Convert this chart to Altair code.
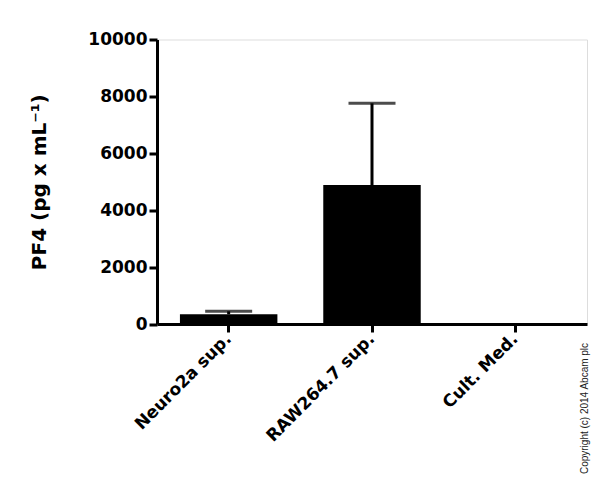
import altair as alt
import pandas as pd

categories = ["Neuro2a sup.", "RAW264.7 sup.", "Cult. Med."]
means = [340, 4886, 0]
errors = [106, 2871, 0]

df = pd.DataFrame({"cat": categories, "mean": means, "err": errors})
df["top"] = df["mean"] + df["err"]

FONT = "DejaVu Sans"

x_scale = alt.Scale(paddingInner=0.32, paddingOuter=0.16)
x_enc = alt.X("cat:N", sort=categories, title=None, scale=x_scale,
              axis=alt.Axis(labelAngle=-45, labelAlign="right", labelBaseline="middle",
                            labelFontSize=17, labelFontWeight="bold", labelFont=FONT,
                            labelColor="black", domainColor="black", domainWidth=3,
                            tickColor="black", tickWidth=3, tickSize=8, labelPadding=4,
                            labelLimit=300))
y_scale = alt.Scale(domain=[0, 10000], nice=False)

bars = alt.Chart(df).mark_bar(color="black").encode(
    x=x_enc,
    y=alt.Y("mean:Q", scale=y_scale, title="PF4 (pg x mL⁻¹)",
            axis=alt.Axis(values=[0, 2000, 4000, 6000, 8000, 10000], grid=False, format="d",
                          labelFontSize=17, labelFontWeight="bold", labelFont=FONT,
                          labelColor="black", domainColor="black", domainWidth=3,
                          tickColor="black", tickWidth=3, tickSize=8, labelPadding=2,
                          titleFontSize=20, titleFontWeight="bold", titleFont=FONT,
                          titleColor="black", titlePadding=38)),
)

stems = alt.Chart(df[df["err"] > 0]).mark_rule(color="black", strokeWidth=3).encode(
    x=alt.X("cat:N", sort=categories, scale=x_scale),
    y=alt.Y("mean:Q", scale=y_scale),
    y2="top:Q",
)

caps = alt.Chart(df[df["err"] > 0]).mark_tick(color="black", size=47, thickness=3).encode(
    x=alt.X("cat:N", sort=categories, scale=x_scale),
    y=alt.Y("top:Q", scale=y_scale),
)

copyright_df = pd.DataFrame({"t": ["Copyright (c) 2014 Abcam plc"]})
copyright = alt.Chart(copyright_df).mark_text(
    angle=270, fontSize=10, font="Liberation Sans", color="#222222", align="center", baseline="middle"
).encode(x=alt.value(428), y=alt.value(369), text="t:N")

chart = alt.layer(bars, stems, caps, copyright).properties(
    width=430, height=284.5,
    padding={"left": 149, "top": 31.5, "right": 5, "bottom": 154},
    autosize=alt.AutoSizeParams(type="none"),
).configure_view(stroke=None).configure(background="white")

chart.save("out.html", embed_options={"renderer": "svg", "actions": False})
